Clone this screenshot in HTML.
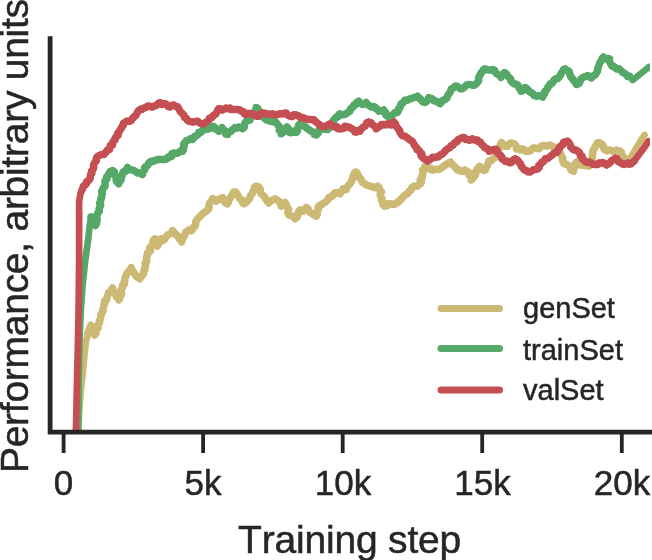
<!DOCTYPE html>
<html><head><meta charset="utf-8"><title>Training curves</title>
<style>
html,body{margin:0;padding:0;background:#fff;}
svg{display:block;}
text{font-family:"Liberation Sans",sans-serif;fill:#262626;font-kerning:none;stroke:#262626;stroke-width:0.5px;}
</style></head>
<body>
<svg width="652" height="560" viewBox="0 0 652 560">
<rect width="652" height="560" fill="#fff"/>
<defs><clipPath id="cp"><rect x="50" y="30" width="600" height="402"/></clipPath></defs>
<g id="curves" fill="none" stroke-width="6.7" clip-path="url(#cp)" stroke-linejoin="round" stroke-linecap="round">
<path d="M77.9 436.0L79.3 410.0L80.8 390.0L82.7 374.0L84.2 357.5L85.8 342.5L88.0 333.5L88.3 331.3L89.6 329.4L90.0 327.2L91.0 325.2L91.6 327.3L92.3 329.2L94.1 330.8L94.9 332.7L94.8 335.0L96.0 333.4L95.5 331.2L96.0 329.4L98.1 328.1L97.8 326.0L98.3 324.2L99.6 322.6L99.5 320.6L100.4 318.9L100.8 317.0L100.6 314.8L102.0 313.1L103.0 311.2L102.8 309.0L103.7 307.1L103.8 305.0L104.8 303.4L104.4 301.2L106.5 300.0L106.9 298.1L107.5 296.2L108.2 294.4L108.7 292.5L111.1 291.7L111.5 289.6L112.5 288.0L113.1 290.0L113.7 291.9L114.9 293.5L116.2 295.0L116.3 297.0L118.1 298.2L118.8 300.0L119.9 298.4L119.7 296.4L121.2 294.9L121.6 293.1L120.7 290.8L121.3 289.1L122.5 287.5L122.5 285.6L124.5 284.2L124.0 282.1L124.9 280.4L124.8 278.5L125.7 276.8L126.2 275.0L127.1 273.4L128.0 271.8L129.4 270.6L130.4 269.1L131.2 267.5L131.5 269.5L132.8 270.8L133.3 272.6L135.0 273.8L135.7 275.5L136.8 276.9L138.5 277.7L140.0 278.8L140.3 276.6L142.5 275.3L143.6 273.5L143.8 271.2L145.0 269.4L144.8 267.2L145.6 265.3L145.1 263.0L146.7 261.2L146.7 259.1L146.6 256.9L147.5 255.0L147.4 252.9L149.7 251.8L150.7 250.1L149.7 247.7L151.2 246.2L152.7 244.6L153.0 242.4L153.4 240.3L155.0 238.8L156.0 240.5L155.7 242.7L156.2 244.6L157.5 246.2L157.6 244.0L159.6 242.6L159.5 240.2L161.2 238.8L163.8 240.0L165.3 238.6L166.0 236.5L167.5 235.0L169.7 234.1L171.5 232.7L172.5 230.5L173.7 231.9L174.2 234.0L176.5 234.6L177.5 236.2L179.2 237.2L179.5 239.2L181.4 240.0L181.8 242.0L182.0 239.7L183.2 237.8L184.4 235.9L185.0 233.8L185.8 232.0L187.5 231.2L188.9 229.8L191.1 230.8L192.5 229.5L193.0 227.6L195.0 226.3L195.7 224.5L195.6 222.2L196.6 220.5L197.5 218.8L198.8 217.5L200.2 216.5L201.4 215.1L202.5 213.8L204.2 212.6L206.0 211.4L207.5 210.0L209.0 208.4L208.8 206.3L209.2 204.3L210.0 202.5L211.6 200.9L212.5 198.8L214.7 199.6L216.2 201.2L217.9 199.7L220.0 198.8L222.5 197.5L222.5 199.6L224.1 200.9L225.0 202.5L227.5 203.8L228.5 201.9L228.5 199.6L230.2 198.0L231.2 196.2L232.6 194.2L233.8 192.0L235.8 192.0L237.0 193.8L237.8 195.5L238.8 197.2L240.0 198.8L242.0 199.9L242.3 202.2L243.8 203.8L246.2 202.5L247.4 200.8L249.0 199.4L250.0 197.5L250.7 195.3L252.4 193.5L253.0 191.2L254.5 189.8L254.4 187.4L256.2 186.2L258.6 186.8L260.0 188.8L260.5 191.0L260.8 193.3L262.5 195.0L264.4 196.6L265.5 198.8L266.7 200.1L267.5 201.7L268.8 203.0L270.4 201.2L272.5 200.0L275.0 198.8L277.0 199.8L278.8 201.2L279.9 202.7L280.7 204.5L281.2 206.2L282.6 205.1L283.5 203.5L285.0 202.5L286.1 204.1L286.2 206.1L287.5 207.5L288.7 209.2L288.0 211.3L288.0 213.2L288.8 215.0L290.7 215.3L292.5 216.2L294.1 217.1L295.0 218.8L297.0 217.3L298.0 215.0L298.2 213.1L298.8 211.4L300.0 210.0L301.5 210.5L303.0 211.2L304.9 209.6L306.2 207.5L308.1 208.7L309.0 210.6L310.0 212.5L312.1 213.5L313.8 215.0L316.2 216.2L317.3 214.2L317.0 211.9L318.3 209.8L318.0 207.5L319.2 205.7L321.2 205.0L322.9 203.5L325.0 202.5L326.5 201.0L328.1 199.6L328.8 197.5L330.6 196.8L332.5 196.2L333.4 194.6L334.5 193.2L336.2 192.5L338.1 193.2L340.0 193.8L340.5 191.8L342.5 190.7L343.0 188.8L344.5 189.8L346.2 189.5L347.0 187.2L348.4 185.4L350.0 183.8L351.3 182.1L351.8 180.1L352.8 178.4L353.0 176.2L354.0 174.0L355.5 172.0L357.2 173.0L358.0 174.6L358.8 176.2L359.2 178.1L361.0 179.1L361.8 180.8L362.5 182.5L364.5 183.6L366.2 185.0L368.2 185.5L370.0 186.2L371.9 186.7L373.8 187.5L375.9 187.7L377.5 186.2L379.3 187.7L380.0 190.0L381.5 192.0L380.1 194.6L380.8 196.7L382.0 198.8L381.7 200.9L383.4 202.5L383.0 204.7L384.5 206.2L387.1 205.7L388.8 203.8L390.7 203.6L392.5 204.5L394.6 204.2L396.2 203.0L398.5 202.0L400.0 200.0L401.5 199.0L402.5 197.5L403.8 196.2L405.4 194.6L407.5 193.8L408.5 192.3L409.6 190.9L411.2 190.0L411.8 187.6L413.8 186.2L415.6 186.4L417.5 186.2L418.7 184.7L420.5 183.8L421.4 181.9L420.2 179.7L422.2 178.0L422.0 175.9L422.8 174.1L423.0 172.1L422.5 170.0L424.4 168.6L425.0 166.2L426.8 167.6L428.8 168.8L430.7 168.2L432.0 170.1L433.8 170.0L435.4 169.2L437.0 169.3L438.8 169.5L440.8 168.5L442.5 167.0L444.4 165.8L446.2 164.5L448.3 163.1L450.5 162.0L451.5 164.3L453.8 165.5L454.8 167.1L456.5 168.3L457.5 170.0L459.5 170.2L461.2 171.2L463.4 171.3L465.0 170.0L466.9 171.2L468.8 172.5L468.8 174.6L470.3 176.2L471.2 177.9L471.2 180.0L472.9 178.2L474.5 176.2L475.7 174.6L475.1 172.3L476.9 170.8L477.0 168.8L478.8 168.1L479.5 166.2L480.6 168.3L482.5 169.5L483.9 170.4L485.5 170.0L485.4 167.6L487.4 165.9L488.0 163.8L489.0 161.0L491.2 160.6L492.8 159.0L494.2 157.2L496.5 157.0L497.1 154.6L498.5 152.5L498.4 150.6L499.2 148.8L499.5 147.0L500.4 144.7L501.5 142.5L502.8 144.0L504.0 145.5L505.8 146.4L507.8 146.2L509.0 143.9L511.5 143.0L514.0 143.8L515.6 145.0L516.3 146.7L516.5 148.8L518.6 148.7L520.2 150.0L522.0 148.9L524.0 149.5L525.5 151.2L527.8 151.2L529.9 151.0L531.5 149.5L533.1 148.0L535.2 148.0L537.1 148.4L539.0 148.8L540.6 146.8L542.8 145.5L544.7 145.5L546.5 146.2L548.3 145.3L550.2 145.0L552.0 146.3L554.0 147.0L555.8 148.6L557.8 150.0L558.9 151.4L560.2 152.8L560.9 154.5L561.5 156.2L562.8 157.9L562.6 160.0L563.0 162.0L564.0 163.8L566.0 164.1L567.8 165.0L569.5 166.2L570.5 168.0L571.0 170.0L573.5 171.2L573.7 169.3L574.6 167.5L575.4 165.8L575.2 163.8L576.3 162.3L577.8 161.2L578.5 163.5L580.2 165.0L581.9 165.4L583.6 165.2L585.2 165.5L587.2 165.6L589.0 166.2L590.2 164.4L591.5 162.5L592.2 160.6L591.8 158.5L592.6 156.5L592.4 154.5L592.8 152.5L593.1 150.2L594.5 148.4L595.2 146.2L596.8 145.3L597.1 143.1L599.0 142.5L601.0 143.6L602.8 145.0L603.7 146.6L603.7 148.7L605.2 150.0L607.1 150.9L609.0 150.0L611.0 150.4L612.8 151.2L614.9 151.4L616.5 150.0L618.2 151.2L620.2 151.2L621.5 152.7L622.0 154.6L622.8 156.2L624.3 157.6L623.9 159.9L625.2 161.2L627.8 162.5L631.5 156.2L635.2 150.0L639.0 143.8L642.0 138.8L644.5 135.0" stroke="#ccb974"/>
<path d="M88.0 333.5L88.3 331.3L89.6 329.4L90.0 327.2L91.0 325.2L91.6 327.3L92.3 329.2L94.1 330.8L94.9 332.7L94.8 335.0L96.0 333.4L95.5 331.2L96.0 329.4L98.1 328.1L97.8 326.0L98.3 324.2L99.6 322.6L99.5 320.6L100.4 318.9L100.8 317.0L100.6 314.8L102.0 313.1L103.0 311.2L102.8 309.0L103.7 307.1L103.8 305.0L104.8 303.4L104.4 301.2L106.5 300.0L106.9 298.1L107.5 296.2L108.2 294.4L108.7 292.5L111.1 291.7L111.5 289.6L112.5 288.0L113.1 290.0L113.7 291.9L114.9 293.5L116.2 295.0L116.3 297.0L118.1 298.2L118.8 300.0L119.9 298.4L119.7 296.4L121.2 294.9L121.6 293.1L120.7 290.8L121.3 289.1L122.5 287.5L122.5 285.6L124.5 284.2L124.0 282.1L124.9 280.4L124.8 278.5L125.7 276.8L126.2 275.0L127.1 273.4L128.0 271.8L129.4 270.6L130.4 269.1L131.2 267.5L131.5 269.5L132.8 270.8L133.3 272.6L135.0 273.8L135.7 275.5L136.8 276.9L138.5 277.7L140.0 278.8L140.3 276.6L142.5 275.3L143.6 273.5L143.8 271.2L145.0 269.4L144.8 267.2L145.6 265.3L145.1 263.0L146.7 261.2L146.7 259.1L146.6 256.9L147.5 255.0L147.4 252.9L149.7 251.8L150.7 250.1L149.7 247.7L151.2 246.2L152.7 244.6L153.0 242.4L153.4 240.3L155.0 238.8L156.0 240.5L155.7 242.7L156.2 244.6L157.5 246.2L157.6 244.0L159.6 242.6L159.5 240.2L161.2 238.8L163.8 240.0L165.3 238.6L166.0 236.5L167.5 235.0L169.7 234.1L171.5 232.7L172.5 230.5L173.7 231.9L174.2 234.0L176.5 234.6L177.5 236.2L179.2 237.2L179.5 239.2L181.4 240.0L181.8 242.0L182.0 239.7L183.2 237.8L184.4 235.9L185.0 233.8L185.8 232.0L187.5 231.2L188.9 229.8L191.1 230.8L192.5 229.5L193.0 227.6L195.0 226.3L195.7 224.5L195.6 222.2L196.6 220.5L197.5 218.8L198.8 217.5L200.2 216.5L201.4 215.1L202.5 213.8L204.2 212.6L206.0 211.4L207.5 210.0L209.0 208.4L208.8 206.3L209.2 204.3L210.0 202.5L211.6 200.9L212.5 198.8L214.7 199.6L216.2 201.2L217.9 199.7L220.0 198.8L222.5 197.5L222.5 199.6L224.1 200.9L225.0 202.5L227.5 203.8L228.5 201.9L228.5 199.6L230.2 198.0L231.2 196.2L232.6 194.2L233.8 192.0L235.8 192.0L237.0 193.8L237.8 195.5L238.8 197.2L240.0 198.8L242.0 199.9L242.3 202.2L243.8 203.8L246.2 202.5L247.4 200.8L249.0 199.4L250.0 197.5L250.7 195.3L252.4 193.5L253.0 191.2L254.5 189.8L254.4 187.4L256.2 186.2L258.6 186.8L260.0 188.8L260.5 191.0L260.8 193.3L262.5 195.0L264.4 196.6L265.5 198.8L266.7 200.1L267.5 201.7L268.8 203.0L270.4 201.2L272.5 200.0L275.0 198.8L277.0 199.8L278.8 201.2L279.9 202.7L280.7 204.5L281.2 206.2L282.6 205.1L283.5 203.5L285.0 202.5L286.1 204.1L286.2 206.1L287.5 207.5L288.7 209.2L288.0 211.3L288.0 213.2L288.8 215.0L290.7 215.3L292.5 216.2L294.1 217.1L295.0 218.8L297.0 217.3L298.0 215.0L298.2 213.1L298.8 211.4L300.0 210.0L301.5 210.5L303.0 211.2L304.9 209.6L306.2 207.5L308.1 208.7L309.0 210.6L310.0 212.5L312.1 213.5L313.8 215.0L316.2 216.2L317.3 214.2L317.0 211.9L318.3 209.8L318.0 207.5L319.2 205.7L321.2 205.0L322.9 203.5L325.0 202.5L326.5 201.0L328.1 199.6L328.8 197.5L330.6 196.8L332.5 196.2L333.4 194.6L334.5 193.2L336.2 192.5L338.1 193.2L340.0 193.8L340.5 191.8L342.5 190.7L343.0 188.8L344.5 189.8L346.2 189.5L347.0 187.2L348.4 185.4L350.0 183.8L351.3 182.1L351.8 180.1L352.8 178.4L353.0 176.2L354.0 174.0L355.5 172.0L357.2 173.0L358.0 174.6L358.8 176.2L359.2 178.1L361.0 179.1L361.8 180.8L362.5 182.5L364.5 183.6L366.2 185.0L368.2 185.5L370.0 186.2L371.9 186.7L373.8 187.5L375.9 187.7L377.5 186.2L379.3 187.7L380.0 190.0L381.5 192.0L380.1 194.6L380.8 196.7L382.0 198.8L381.7 200.9L383.4 202.5L383.0 204.7L384.5 206.2L387.1 205.7L388.8 203.8L390.7 203.6L392.5 204.5L394.6 204.2L396.2 203.0L398.5 202.0L400.0 200.0L401.5 199.0L402.5 197.5L403.8 196.2L405.4 194.6L407.5 193.8L408.5 192.3L409.6 190.9L411.2 190.0L411.8 187.6L413.8 186.2L415.6 186.4L417.5 186.2L418.7 184.7L420.5 183.8L421.4 181.9L420.2 179.7L422.2 178.0L422.0 175.9L422.8 174.1L423.0 172.1L422.5 170.0L424.4 168.6L425.0 166.2L426.8 167.6L428.8 168.8L430.7 168.2L432.0 170.1L433.8 170.0L435.4 169.2L437.0 169.3L438.8 169.5L440.8 168.5L442.5 167.0L444.4 165.8L446.2 164.5L448.3 163.1L450.5 162.0L451.5 164.3L453.8 165.5L454.8 167.1L456.5 168.3L457.5 170.0L459.5 170.2L461.2 171.2L463.4 171.3L465.0 170.0L466.9 171.2L468.8 172.5L468.8 174.6L470.3 176.2L471.2 177.9L471.2 180.0L472.9 178.2L474.5 176.2L475.7 174.6L475.1 172.3L476.9 170.8L477.0 168.8L478.8 168.1L479.5 166.2L480.6 168.3L482.5 169.5L483.9 170.4L485.5 170.0L485.4 167.6L487.4 165.9L488.0 163.8L489.0 161.0L491.2 160.6L492.8 159.0L494.2 157.2L496.5 157.0L497.1 154.6L498.5 152.5L498.4 150.6L499.2 148.8L499.5 147.0L500.4 144.7L501.5 142.5L502.8 144.0L504.0 145.5L505.8 146.4L507.8 146.2L509.0 143.9L511.5 143.0L514.0 143.8L515.6 145.0L516.3 146.7L516.5 148.8L518.6 148.7L520.2 150.0L522.0 148.9L524.0 149.5L525.5 151.2L527.8 151.2L529.9 151.0L531.5 149.5L533.1 148.0L535.2 148.0L537.1 148.4L539.0 148.8L540.6 146.8L542.8 145.5L544.7 145.5L546.5 146.2L548.3 145.3L550.2 145.0L552.0 146.3L554.0 147.0L555.8 148.6L557.8 150.0L558.9 151.4L560.2 152.8L560.9 154.5L561.5 156.2L562.8 157.9L562.6 160.0L563.0 162.0L564.0 163.8L566.0 164.1L567.8 165.0L569.5 166.2L570.5 168.0L571.0 170.0L573.5 171.2L573.7 169.3L574.6 167.5L575.4 165.8L575.2 163.8L576.3 162.3L577.8 161.2L578.5 163.5L580.2 165.0L581.9 165.4L583.6 165.2L585.2 165.5L587.2 165.6L589.0 166.2L590.2 164.4L591.5 162.5L592.2 160.6L591.8 158.5L592.6 156.5L592.4 154.5L592.8 152.5L593.1 150.2L594.5 148.4L595.2 146.2L596.8 145.3L597.1 143.1L599.0 142.5L601.0 143.6L602.8 145.0L603.7 146.6L603.7 148.7L605.2 150.0L607.1 150.9L609.0 150.0L611.0 150.4L612.8 151.2L614.9 151.4L616.5 150.0L618.2 151.2L620.2 151.2L621.5 152.7L622.0 154.6L622.8 156.2L624.3 157.6L623.9 159.9L625.2 161.2" stroke="#ccb974" stroke-width="7.4"/>
<path d="M78.2 436.0L78.7 374.0L79.7 335.0L80.8 310.0L82.6 285.0L85.3 260.0L88.1 240.0L89.5 227.5L91.0 216.9L91.5 218.5L92.0 220.2L93.2 221.5L93.8 223.8L95.4 225.6L96.6 223.6L96.6 221.4L97.3 219.4L96.0 217.0L97.2 215.0L97.8 212.9L99.3 211.1L99.1 208.8L99.8 206.9L100.7 205.2L99.6 203.0L100.7 201.2L100.7 199.3L101.6 197.5L101.2 197.5L101.8 195.6L102.3 193.8L101.7 191.6L102.6 189.9L103.2 188.0L104.9 186.5L105.0 184.5L105.0 182.5L105.1 180.5L107.0 179.2L106.6 177.0L108.2 175.6L108.8 173.8L110.1 171.6L112.5 170.5L114.2 171.7L113.3 174.1L115.3 175.2L116.0 176.9L116.2 178.8L116.2 180.8L117.3 182.4L118.8 183.8L119.1 181.6L121.1 180.1L121.1 177.8L122.1 175.9L122.5 173.8L123.3 171.8L125.7 171.2L126.5 169.3L127.5 167.5L128.7 169.2L130.5 169.9L132.5 170.0L134.4 170.7L136.0 171.8L137.5 173.0L139.4 172.9L141.0 173.3L142.5 174.5L142.5 172.5L143.6 171.0L144.9 169.6L144.6 167.5L146.2 166.2L147.8 165.3L148.5 163.5L149.7 162.2L151.2 161.2L153.1 161.5L154.6 160.4L156.2 160.0L158.1 159.4L160.0 159.5L162.5 159.5L165.0 159.5L166.8 159.0L167.9 157.0L170.0 157.0L171.9 156.3L171.8 153.7L173.8 153.0L175.5 153.3L177.2 153.4L178.8 152.5L180.3 151.0L182.5 151.2L183.6 149.7L183.2 147.7L184.2 146.0L183.6 144.0L185.0 142.5L186.4 140.5L188.8 140.0L190.2 138.7L192.4 139.5L193.8 138.0L194.6 136.2L196.6 135.6L198.1 134.5L198.8 132.5L200.8 132.5L201.9 130.6L203.8 130.0L205.3 129.3L207.1 129.2L208.8 128.8L210.9 128.0L212.5 126.2L214.6 126.9L215.5 129.1L217.5 130.0L218.8 131.2L220.8 129.8L222.0 127.5L222.4 129.5L224.8 130.4L225.0 132.5L225.7 134.2L227.5 134.5L228.8 132.3L231.2 131.2L232.3 129.8L233.9 128.9L235.0 127.5L237.0 128.1L238.8 127.0L240.8 127.6L242.5 128.8L244.2 127.3L244.5 125.0L245.0 123.0L246.2 121.2L248.0 120.3L250.0 120.0L250.4 117.8L251.1 115.9L252.2 114.1L253.8 112.5L254.9 111.0L256.3 109.6L256.2 107.5L258.1 109.0L258.8 111.2L260.7 112.4L260.5 115.2L262.5 116.2L263.7 117.5L265.1 118.6L266.2 120.0L268.0 119.9L269.5 121.0L271.2 121.2L273.1 121.9L275.0 121.2L276.3 122.9L277.6 124.5L278.8 126.2L280.2 127.8L279.2 130.3L281.5 131.6L281.2 133.8L283.1 132.5L285.0 131.2L286.6 129.4L287.0 127.0L288.5 128.5L288.2 130.9L289.5 132.5L291.3 132.7L292.5 131.2L294.3 132.1L296.2 132.5L297.5 131.0L297.0 128.7L298.4 127.2L298.6 125.2L300.0 123.8L301.5 125.6L303.8 126.2L305.9 127.2L307.5 128.8L309.4 129.9L311.2 131.2L313.8 132.5L314.3 134.5L316.2 135.0L317.7 133.6L318.8 132.1L318.8 130.0L320.6 129.3L322.5 128.8L324.2 129.0L325.8 129.7L327.5 129.5L329.3 127.8L331.2 126.2L331.8 124.2L333.0 122.4L333.4 120.3L335.0 118.8L336.1 117.2L338.2 116.6L338.8 114.5L340.0 113.8L341.5 114.9L343.3 114.5L345.0 114.5L346.7 113.4L348.2 112.1L350.0 111.2L350.2 109.3L351.5 107.9L353.3 106.9L353.8 105.0L355.9 104.3L356.9 102.3L358.8 101.2L360.3 103.3L362.5 104.5L364.6 104.0L366.2 102.5L367.2 104.0L368.5 105.2L370.0 106.2L371.6 107.0L373.4 106.5L375.0 107.0L375.9 108.7L377.8 109.5L378.8 111.2L380.4 110.8L382.2 110.9L383.8 110.0L384.4 111.8L386.0 112.9L385.8 115.1L387.5 116.2L390.0 117.5L391.5 116.5L392.6 115.1L393.8 113.8L395.3 112.2L397.5 112.5L398.3 110.8L398.5 108.8L400.1 107.4L400.4 105.5L401.2 103.8L402.9 102.9L404.0 101.5L405.0 100.0L407.0 100.3L408.8 99.5L410.3 98.6L412.2 98.4L413.8 97.5L415.8 97.3L417.5 96.2L418.3 98.0L420.2 98.5L421.2 100.0L422.7 101.8L425.0 102.5L426.8 101.3L427.8 99.4L428.8 97.5L430.3 99.0L432.5 98.8L433.9 100.8L436.2 101.2L438.1 102.5L440.0 103.8L441.3 102.5L442.0 100.8L443.8 100.0L445.5 99.2L446.9 98.1L447.5 96.2L448.4 94.4L449.7 92.7L450.7 90.8L451.2 88.8L453.4 87.9L455.0 86.2L457.1 86.3L458.8 87.5L460.4 88.7L462.5 88.8L463.9 87.6L465.2 86.5L466.2 85.0L468.1 84.6L470.0 84.5L471.6 84.9L473.3 85.4L475.0 85.0L476.5 83.5L477.9 81.9L478.8 80.0L478.5 77.8L479.4 76.0L480.5 74.3L481.2 72.5L482.7 71.5L483.4 69.6L485.0 68.8L486.9 69.7L489.0 70.0L490.9 70.0L492.8 69.5L494.7 70.3L495.3 72.3L496.5 73.8L498.4 74.6L500.1 75.6L501.0 77.5L501.6 75.4L503.0 74.0L504.5 72.5L506.6 74.0L507.8 76.2L509.3 77.6L510.7 79.1L511.0 81.2L512.5 82.4L514.0 83.8L516.0 84.1L517.8 85.0L518.4 86.7L519.2 88.2L520.7 89.4L521.0 91.2L523.0 90.6L523.2 88.0L525.2 87.5L526.6 88.6L528.1 89.7L529.0 91.2L530.8 92.5L532.8 93.5L534.0 95.5L536.5 96.2L539.0 95.5L541.0 96.0L542.8 97.0L542.9 94.8L544.8 93.6L544.8 91.4L546.5 90.0L547.5 88.5L548.1 86.7L549.5 85.4L550.2 83.8L552.1 83.1L553.2 81.7L554.0 80.0L555.6 78.9L557.7 78.5L559.0 77.0L560.5 75.2L561.3 73.0L562.8 71.2L563.5 69.5L565.2 68.8L567.0 70.2L569.0 71.2L569.8 73.2L570.1 75.4L571.0 77.3L572.8 78.8L573.8 80.8L575.5 82.4L576.5 84.5L578.9 83.5L580.2 81.2L580.8 79.2L582.2 77.9L584.0 77.0L585.9 76.4L587.8 75.5L589.5 76.9L591.5 78.0L592.9 75.9L595.2 75.0L596.3 73.0L597.6 71.1L597.8 68.8L598.3 66.8L599.2 64.9L599.7 62.9L601.0 61.2L601.9 58.9L603.5 57.0L604.5 58.7L606.5 58.8L608.0 58.5L609.5 58.8L609.3 60.9L610.0 62.8L611.2 64.4L612.0 66.2L613.8 66.4L615.2 67.5L616.8 69.0L619.0 68.8L620.3 70.0L621.6 71.1L622.8 72.5L624.8 73.4L626.5 75.0L627.6 76.5L629.5 76.2L632.8 80.0L636.5 77.0L641.5 73.0L645.2 70.0L649.0 67.0" stroke="#55a868"/>
<path d="M91.0 216.9L91.5 218.5L92.0 220.2L93.2 221.5L93.8 223.8L95.4 225.6L96.6 223.6L96.6 221.4L97.3 219.4L96.0 217.0L97.2 215.0L97.8 212.9L99.3 211.1L99.1 208.8L99.8 206.9L100.7 205.2L99.6 203.0L100.7 201.2L100.7 199.3L101.6 197.5L101.2 197.5L101.8 195.6L102.3 193.8L101.7 191.6L102.6 189.9L103.2 188.0L104.9 186.5L105.0 184.5L105.0 182.5L105.1 180.5L107.0 179.2L106.6 177.0L108.2 175.6L108.8 173.8L110.1 171.6L112.5 170.5L114.2 171.7L113.3 174.1L115.3 175.2L116.0 176.9L116.2 178.8L116.2 180.8L117.3 182.4L118.8 183.8L119.1 181.6L121.1 180.1L121.1 177.8L122.1 175.9L122.5 173.8L123.3 171.8L125.7 171.2L126.5 169.3L127.5 167.5L128.7 169.2L130.5 169.9L132.5 170.0L134.4 170.7L136.0 171.8L137.5 173.0L139.4 172.9L141.0 173.3L142.5 174.5L142.5 172.5L143.6 171.0L144.9 169.6L144.6 167.5L146.2 166.2L147.8 165.3L148.5 163.5L149.7 162.2L151.2 161.2L153.1 161.5L154.6 160.4L156.2 160.0L158.1 159.4L160.0 159.5L162.5 159.5L165.0 159.5L166.8 159.0L167.9 157.0L170.0 157.0L171.9 156.3L171.8 153.7L173.8 153.0L175.5 153.3L177.2 153.4L178.8 152.5L180.3 151.0L182.5 151.2L183.6 149.7L183.2 147.7L184.2 146.0L183.6 144.0L185.0 142.5L186.4 140.5L188.8 140.0L190.2 138.7L192.4 139.5L193.8 138.0L194.6 136.2L196.6 135.6L198.1 134.5L198.8 132.5L200.8 132.5L201.9 130.6L203.8 130.0L205.3 129.3L207.1 129.2L208.8 128.8L210.9 128.0L212.5 126.2L214.6 126.9L215.5 129.1L217.5 130.0L218.8 131.2L220.8 129.8L222.0 127.5L222.4 129.5L224.8 130.4L225.0 132.5L225.7 134.2L227.5 134.5L228.8 132.3L231.2 131.2L232.3 129.8L233.9 128.9L235.0 127.5L237.0 128.1L238.8 127.0L240.8 127.6L242.5 128.8L244.2 127.3L244.5 125.0L245.0 123.0L246.2 121.2L248.0 120.3L250.0 120.0L250.4 117.8L251.1 115.9L252.2 114.1L253.8 112.5L254.9 111.0L256.3 109.6L256.2 107.5L258.1 109.0L258.8 111.2L260.7 112.4L260.5 115.2L262.5 116.2L263.7 117.5L265.1 118.6L266.2 120.0L268.0 119.9L269.5 121.0L271.2 121.2L273.1 121.9L275.0 121.2L276.3 122.9L277.6 124.5L278.8 126.2L280.2 127.8L279.2 130.3L281.5 131.6L281.2 133.8L283.1 132.5L285.0 131.2L286.6 129.4L287.0 127.0L288.5 128.5L288.2 130.9L289.5 132.5L291.3 132.7L292.5 131.2L294.3 132.1L296.2 132.5L297.5 131.0L297.0 128.7L298.4 127.2L298.6 125.2L300.0 123.8L301.5 125.6L303.8 126.2L305.9 127.2L307.5 128.8L309.4 129.9L311.2 131.2L313.8 132.5L314.3 134.5L316.2 135.0L317.7 133.6L318.8 132.1L318.8 130.0L320.6 129.3L322.5 128.8L324.2 129.0L325.8 129.7L327.5 129.5L329.3 127.8L331.2 126.2L331.8 124.2L333.0 122.4L333.4 120.3L335.0 118.8L336.1 117.2L338.2 116.6L338.8 114.5L340.0 113.8L341.5 114.9L343.3 114.5L345.0 114.5L346.7 113.4L348.2 112.1L350.0 111.2L350.2 109.3L351.5 107.9L353.3 106.9L353.8 105.0L355.9 104.3L356.9 102.3L358.8 101.2L360.3 103.3L362.5 104.5L364.6 104.0L366.2 102.5L367.2 104.0L368.5 105.2L370.0 106.2L371.6 107.0L373.4 106.5L375.0 107.0L375.9 108.7L377.8 109.5L378.8 111.2L380.4 110.8L382.2 110.9L383.8 110.0L384.4 111.8L386.0 112.9L385.8 115.1L387.5 116.2L390.0 117.5L391.5 116.5L392.6 115.1L393.8 113.8L395.3 112.2L397.5 112.5L398.3 110.8L398.5 108.8L400.1 107.4L400.4 105.5L401.2 103.8L402.9 102.9L404.0 101.5L405.0 100.0L407.0 100.3L408.8 99.5L410.3 98.6L412.2 98.4L413.8 97.5L415.8 97.3L417.5 96.2L418.3 98.0L420.2 98.5L421.2 100.0L422.7 101.8L425.0 102.5L426.8 101.3L427.8 99.4L428.8 97.5L430.3 99.0L432.5 98.8L433.9 100.8L436.2 101.2L438.1 102.5L440.0 103.8L441.3 102.5L442.0 100.8L443.8 100.0L445.5 99.2L446.9 98.1L447.5 96.2L448.4 94.4L449.7 92.7L450.7 90.8L451.2 88.8L453.4 87.9L455.0 86.2L457.1 86.3L458.8 87.5L460.4 88.7L462.5 88.8L463.9 87.6L465.2 86.5L466.2 85.0L468.1 84.6L470.0 84.5L471.6 84.9L473.3 85.4L475.0 85.0L476.5 83.5L477.9 81.9L478.8 80.0L478.5 77.8L479.4 76.0L480.5 74.3L481.2 72.5L482.7 71.5L483.4 69.6L485.0 68.8L486.9 69.7L489.0 70.0L490.9 70.0L492.8 69.5L494.7 70.3L495.3 72.3L496.5 73.8L498.4 74.6L500.1 75.6L501.0 77.5L501.6 75.4L503.0 74.0L504.5 72.5L506.6 74.0L507.8 76.2L509.3 77.6L510.7 79.1L511.0 81.2L512.5 82.4L514.0 83.8L516.0 84.1L517.8 85.0L518.4 86.7L519.2 88.2L520.7 89.4L521.0 91.2L523.0 90.6L523.2 88.0L525.2 87.5L526.6 88.6L528.1 89.7L529.0 91.2L530.8 92.5L532.8 93.5L534.0 95.5L536.5 96.2L539.0 95.5L541.0 96.0L542.8 97.0L542.9 94.8L544.8 93.6L544.8 91.4L546.5 90.0L547.5 88.5L548.1 86.7L549.5 85.4L550.2 83.8L552.1 83.1L553.2 81.7L554.0 80.0L555.6 78.9L557.7 78.5L559.0 77.0L560.5 75.2L561.3 73.0L562.8 71.2L563.5 69.5L565.2 68.8L567.0 70.2L569.0 71.2L569.8 73.2L570.1 75.4L571.0 77.3L572.8 78.8L573.8 80.8L575.5 82.4L576.5 84.5L578.9 83.5L580.2 81.2L580.8 79.2L582.2 77.9L584.0 77.0L585.9 76.4L587.8 75.5L589.5 76.9L591.5 78.0L592.9 75.9L595.2 75.0L596.3 73.0L597.6 71.1L597.8 68.8L598.3 66.8L599.2 64.9L599.7 62.9L601.0 61.2L601.9 58.9L603.5 57.0L604.5 58.7L606.5 58.8L608.0 58.5L609.5 58.8L609.3 60.9L610.0 62.8L611.2 64.4L612.0 66.2L613.8 66.4L615.2 67.5L616.8 69.0L619.0 68.8L620.3 70.0L621.6 71.1L622.8 72.5L624.8 73.4L626.5 75.0L627.6 76.5L629.5 76.2" stroke="#55a868" stroke-width="7.4"/>
<path d="M75.8 436.0L78.2 330.0L78.7 300.0L79.1 260.0L79.1 202.0L80.4 193.8L82.2 189.5L82.9 187.8L83.5 186.1L85.0 185.0L86.5 183.6L86.8 181.3L88.8 180.4L90.0 178.8L90.4 176.8L90.4 174.7L91.9 173.1L91.6 171.0L93.0 169.3L93.8 167.5L93.4 165.5L94.0 163.8L95.1 162.2L96.4 160.7L96.2 158.8L97.0 157.0L98.4 155.9L100.0 155.0L101.8 154.6L103.7 154.5L105.0 153.0L106.4 151.7L107.3 150.1L109.5 149.5L110.0 147.5L110.2 145.5L112.6 144.9L112.6 142.8L113.4 141.1L115.0 140.0L115.1 138.0L116.3 136.5L118.1 135.3L117.8 133.0L119.3 131.7L120.0 130.0L121.2 128.7L121.8 126.9L123.1 125.6L123.3 123.5L125.0 122.5L126.5 121.2L128.2 121.1L130.0 121.2L131.5 120.3L132.4 118.6L133.5 117.2L135.0 116.2L136.4 114.4L137.4 112.4L138.8 110.5L140.2 109.3L142.3 109.4L143.8 108.0L145.8 107.5L147.5 106.2L149.2 106.0L150.8 106.9L152.5 107.0L154.1 106.0L156.0 105.6L157.4 104.4L158.8 103.0L160.5 102.8L161.9 104.4L163.8 103.8L165.7 103.9L167.0 105.2L168.2 106.6L170.0 107.0L171.5 105.4L173.8 105.0L175.4 106.2L177.6 106.8L178.8 108.8L179.7 110.5L180.8 112.2L182.4 113.5L183.8 115.0L184.4 117.3L186.6 118.5L187.5 120.5L189.1 121.4L190.8 121.7L192.5 122.0L194.2 121.9L195.8 121.4L197.5 121.2L199.3 122.7L201.3 123.7L203.8 123.8L205.4 122.5L207.3 121.5L208.8 120.0L209.4 118.1L211.5 117.8L212.7 116.5L213.8 115.0L215.8 114.1L216.7 112.4L217.5 110.5L218.8 108.8L220.8 109.0L222.5 110.0L224.3 108.8L226.2 108.0L227.8 108.8L229.9 108.1L231.2 109.5L233.8 109.4L236.2 109.5L238.1 109.5L239.8 109.9L241.2 111.2L243.4 111.6L244.3 113.9L246.2 114.5L247.8 113.5L249.5 113.5L251.2 113.8L253.2 114.2L255.0 115.0L256.6 116.3L258.8 116.2L260.1 114.0L262.5 113.0L264.2 113.1L265.8 113.6L267.5 113.8L270.0 114.5L272.5 113.8L274.1 114.6L275.7 115.0L277.5 114.5L279.1 113.8L280.8 113.8L282.5 113.8L284.3 113.1L286.2 113.0L287.6 115.2L290.0 116.2L292.3 116.7L294.0 114.7L296.2 115.0L298.5 115.7L300.0 117.5L301.8 117.4L303.5 117.8L305.0 118.8L306.7 119.0L308.3 119.4L310.0 119.5L311.8 119.6L313.7 119.7L315.0 121.2L316.8 122.5L318.5 123.9L320.0 125.5L321.6 125.9L323.2 126.9L325.0 126.2L326.8 125.8L328.3 124.6L330.0 123.8L331.5 125.0L333.1 126.2L335.0 127.0L337.0 126.7L338.1 128.9L340.0 128.8L341.9 128.7L343.6 128.3L345.0 127.0L345.0 126.2L346.5 127.2L348.4 126.9L350.0 127.5L351.8 128.8L353.9 129.9L355.0 132.0L356.7 132.0L358.2 130.6L360.0 131.2L360.6 129.4L362.1 128.3L363.3 127.0L365.0 126.2L366.0 124.6L366.8 122.8L368.8 122.0L371.2 122.7L372.5 125.0L374.2 125.8L375.6 126.9L376.2 128.8L378.0 127.3L380.0 126.2L381.5 124.5L383.8 124.5L385.8 124.9L387.5 123.8L389.3 124.6L391.2 125.0L392.0 123.1L393.8 122.0L395.4 123.9L396.2 126.2L397.4 127.7L398.4 129.2L399.7 130.5L400.0 132.5L401.2 134.3L402.7 135.8L405.0 136.2L406.7 137.4L408.4 138.7L410.0 140.0L411.9 141.0L413.1 142.6L414.0 144.5L415.0 146.2L416.6 147.5L417.0 149.8L419.3 150.5L420.0 152.5L421.8 153.6L421.1 156.1L422.8 157.2L423.8 158.8L426.0 159.4L427.5 161.2L429.4 160.1L431.2 158.8L432.6 157.3L434.6 157.6L436.2 157.0L438.6 156.8L440.0 155.0L442.1 154.3L443.6 152.8L445.0 151.2L446.4 149.6L448.2 148.5L450.0 147.5L450.8 145.8L452.9 145.4L453.8 143.8L455.0 142.5L457.0 141.7L458.1 139.7L460.0 138.8L462.5 137.5L464.4 137.7L465.6 139.4L467.5 139.5L469.3 140.2L470.9 139.7L472.5 138.8L474.0 139.8L475.7 140.2L477.5 140.0L478.4 141.6L480.4 142.1L481.2 143.8L482.5 145.2L484.0 146.4L485.0 148.0L486.9 148.4L488.3 149.4L489.0 151.2L490.7 150.2L492.8 150.0L494.6 149.3L496.5 149.5L497.4 151.6L498.2 153.7L500.2 155.0L501.6 156.6L502.1 158.9L504.0 160.0L505.6 161.6L507.8 161.2L509.3 162.7L511.5 162.5L512.6 161.1L513.6 159.6L515.2 158.8L516.9 159.6L518.2 160.8L519.0 162.5L520.7 164.0L521.3 166.3L522.8 168.0L524.2 169.9L526.5 170.5L528.1 171.9L530.2 172.0L532.1 170.7L534.0 169.5L535.9 169.4L537.8 168.8L539.2 167.5L538.9 165.2L540.8 164.2L541.5 162.5L543.3 161.8L544.4 160.4L545.2 158.8L547.3 158.6L549.0 157.5L550.8 156.0L552.8 154.5L554.3 152.9L556.5 152.5L557.9 151.2L558.1 149.2L559.8 148.1L560.2 146.2L562.6 145.0L563.5 142.5L565.6 141.7L567.8 141.2L569.2 143.0L570.2 145.0L570.8 147.2L572.4 148.6L574.0 150.0L576.1 150.0L577.8 151.2L579.6 152.7L580.2 155.0L582.1 156.2L582.1 158.8L584.0 160.0L585.5 161.8L587.8 162.5L589.7 162.0L591.5 163.0L593.1 164.4L595.2 164.5L597.5 164.6L599.0 163.0L600.9 163.1L602.8 162.5L604.8 163.5L606.5 165.0L608.4 163.8L610.2 162.5L611.7 160.4L614.0 159.5L615.3 158.2L617.0 158.8L617.9 161.2L620.2 162.5L622.0 163.8L624.0 164.5L625.9 163.8L627.8 163.0L629.2 164.2L631.0 163.8L632.4 162.4L634.0 161.2L637.8 156.2L641.5 151.2L645.2 146.2L648.5 141.2" stroke="#c44e52"/>
<path d="M82.2 189.5L82.9 187.8L83.5 186.1L85.0 185.0L86.5 183.6L86.8 181.3L88.8 180.4L90.0 178.8L90.4 176.8L90.4 174.7L91.9 173.1L91.6 171.0L93.0 169.3L93.8 167.5L93.4 165.5L94.0 163.8L95.1 162.2L96.4 160.7L96.2 158.8L97.0 157.0L98.4 155.9L100.0 155.0L101.8 154.6L103.7 154.5L105.0 153.0L106.4 151.7L107.3 150.1L109.5 149.5L110.0 147.5L110.2 145.5L112.6 144.9L112.6 142.8L113.4 141.1L115.0 140.0L115.1 138.0L116.3 136.5L118.1 135.3L117.8 133.0L119.3 131.7L120.0 130.0L121.2 128.7L121.8 126.9L123.1 125.6L123.3 123.5L125.0 122.5L126.5 121.2L128.2 121.1L130.0 121.2L131.5 120.3L132.4 118.6L133.5 117.2L135.0 116.2L136.4 114.4L137.4 112.4L138.8 110.5L140.2 109.3L142.3 109.4L143.8 108.0L145.8 107.5L147.5 106.2L149.2 106.0L150.8 106.9L152.5 107.0L154.1 106.0L156.0 105.6L157.4 104.4L158.8 103.0L160.5 102.8L161.9 104.4L163.8 103.8L165.7 103.9L167.0 105.2L168.2 106.6L170.0 107.0L171.5 105.4L173.8 105.0L175.4 106.2L177.6 106.8L178.8 108.8L179.7 110.5L180.8 112.2L182.4 113.5L183.8 115.0L184.4 117.3L186.6 118.5L187.5 120.5L189.1 121.4L190.8 121.7L192.5 122.0L194.2 121.9L195.8 121.4L197.5 121.2L199.3 122.7L201.3 123.7L203.8 123.8L205.4 122.5L207.3 121.5L208.8 120.0L209.4 118.1L211.5 117.8L212.7 116.5L213.8 115.0L215.8 114.1L216.7 112.4L217.5 110.5L218.8 108.8L220.8 109.0L222.5 110.0L224.3 108.8L226.2 108.0L227.8 108.8L229.9 108.1L231.2 109.5L233.8 109.4L236.2 109.5L238.1 109.5L239.8 109.9L241.2 111.2L243.4 111.6L244.3 113.9L246.2 114.5L247.8 113.5L249.5 113.5L251.2 113.8L253.2 114.2L255.0 115.0L256.6 116.3L258.8 116.2L260.1 114.0L262.5 113.0L264.2 113.1L265.8 113.6L267.5 113.8L270.0 114.5L272.5 113.8L274.1 114.6L275.7 115.0L277.5 114.5L279.1 113.8L280.8 113.8L282.5 113.8L284.3 113.1L286.2 113.0L287.6 115.2L290.0 116.2L292.3 116.7L294.0 114.7L296.2 115.0L298.5 115.7L300.0 117.5L301.8 117.4L303.5 117.8L305.0 118.8L306.7 119.0L308.3 119.4L310.0 119.5L311.8 119.6L313.7 119.7L315.0 121.2L316.8 122.5L318.5 123.9L320.0 125.5L321.6 125.9L323.2 126.9L325.0 126.2L326.8 125.8L328.3 124.6L330.0 123.8L331.5 125.0L333.1 126.2L335.0 127.0L337.0 126.7L338.1 128.9L340.0 128.8L341.9 128.7L343.6 128.3L345.0 127.0L345.0 126.2L346.5 127.2L348.4 126.9L350.0 127.5L351.8 128.8L353.9 129.9L355.0 132.0L356.7 132.0L358.2 130.6L360.0 131.2L360.6 129.4L362.1 128.3L363.3 127.0L365.0 126.2L366.0 124.6L366.8 122.8L368.8 122.0L371.2 122.7L372.5 125.0L374.2 125.8L375.6 126.9L376.2 128.8L378.0 127.3L380.0 126.2L381.5 124.5L383.8 124.5L385.8 124.9L387.5 123.8L389.3 124.6L391.2 125.0L392.0 123.1L393.8 122.0L395.4 123.9L396.2 126.2L397.4 127.7L398.4 129.2L399.7 130.5L400.0 132.5L401.2 134.3L402.7 135.8L405.0 136.2L406.7 137.4L408.4 138.7L410.0 140.0L411.9 141.0L413.1 142.6L414.0 144.5L415.0 146.2L416.6 147.5L417.0 149.8L419.3 150.5L420.0 152.5L421.8 153.6L421.1 156.1L422.8 157.2L423.8 158.8L426.0 159.4L427.5 161.2L429.4 160.1L431.2 158.8L432.6 157.3L434.6 157.6L436.2 157.0L438.6 156.8L440.0 155.0L442.1 154.3L443.6 152.8L445.0 151.2L446.4 149.6L448.2 148.5L450.0 147.5L450.8 145.8L452.9 145.4L453.8 143.8L455.0 142.5L457.0 141.7L458.1 139.7L460.0 138.8L462.5 137.5L464.4 137.7L465.6 139.4L467.5 139.5L469.3 140.2L470.9 139.7L472.5 138.8L474.0 139.8L475.7 140.2L477.5 140.0L478.4 141.6L480.4 142.1L481.2 143.8L482.5 145.2L484.0 146.4L485.0 148.0L486.9 148.4L488.3 149.4L489.0 151.2L490.7 150.2L492.8 150.0L494.6 149.3L496.5 149.5L497.4 151.6L498.2 153.7L500.2 155.0L501.6 156.6L502.1 158.9L504.0 160.0L505.6 161.6L507.8 161.2L509.3 162.7L511.5 162.5L512.6 161.1L513.6 159.6L515.2 158.8L516.9 159.6L518.2 160.8L519.0 162.5L520.7 164.0L521.3 166.3L522.8 168.0L524.2 169.9L526.5 170.5L528.1 171.9L530.2 172.0L532.1 170.7L534.0 169.5L535.9 169.4L537.8 168.8L539.2 167.5L538.9 165.2L540.8 164.2L541.5 162.5L543.3 161.8L544.4 160.4L545.2 158.8L547.3 158.6L549.0 157.5L550.8 156.0L552.8 154.5L554.3 152.9L556.5 152.5L557.9 151.2L558.1 149.2L559.8 148.1L560.2 146.2L562.6 145.0L563.5 142.5L565.6 141.7L567.8 141.2L569.2 143.0L570.2 145.0L570.8 147.2L572.4 148.6L574.0 150.0L576.1 150.0L577.8 151.2L579.6 152.7L580.2 155.0L582.1 156.2L582.1 158.8L584.0 160.0L585.5 161.8L587.8 162.5L589.7 162.0L591.5 163.0L593.1 164.4L595.2 164.5L597.5 164.6L599.0 163.0L600.9 163.1L602.8 162.5L604.8 163.5L606.5 165.0L608.4 163.8L610.2 162.5L611.7 160.4L614.0 159.5L615.3 158.2L617.0 158.8L617.9 161.2L620.2 162.5L622.0 163.8L624.0 164.5L625.9 163.8L627.8 163.0L629.2 164.2L631.0 163.8L632.4 162.4L634.0 161.2" stroke="#c44e52" stroke-width="7.4"/>
</g>
<g stroke="#262626" stroke-width="4" fill="none" stroke-linecap="butt">
<path d="M50.1 36.2V432.2H652" stroke-width="4.8"/>
<path d="M63.6 432V453M203.1 432V453M342.7 432V453M482.2 432V453M621.8 432V453" stroke-width="3.8"/>
</g>
<g font-size="35" text-anchor="middle">
<text x="63.5" y="494.8">0</text>
<text x="203" y="494.8">5k</text>
<text x="343" y="494.8">10k</text>
<text x="482.5" y="494.8">15k</text>
<text x="622" y="494.8">20k</text>
</g>
<text x="238.1" y="552.7" font-size="39" letter-spacing="-0.19">Training step</text>
<text transform="translate(27.9 473.1) rotate(-90)" font-size="39" letter-spacing="-0.26">Performance, arbitrary units</text>
<g stroke-width="7" stroke-linecap="round">
<path d="M441 308.4H499.5" stroke="#ccb974"/>
<path d="M441 348.5H499.5" stroke="#55a868"/>
<path d="M441 390H499.5" stroke="#c44e52"/>
</g>
<g font-size="29">
<text x="523" y="318.3">genSet</text>
<text x="523" y="359.5">trainSet</text>
<text x="523" y="400">valSet</text>
</g>
</svg>
</body></html>
